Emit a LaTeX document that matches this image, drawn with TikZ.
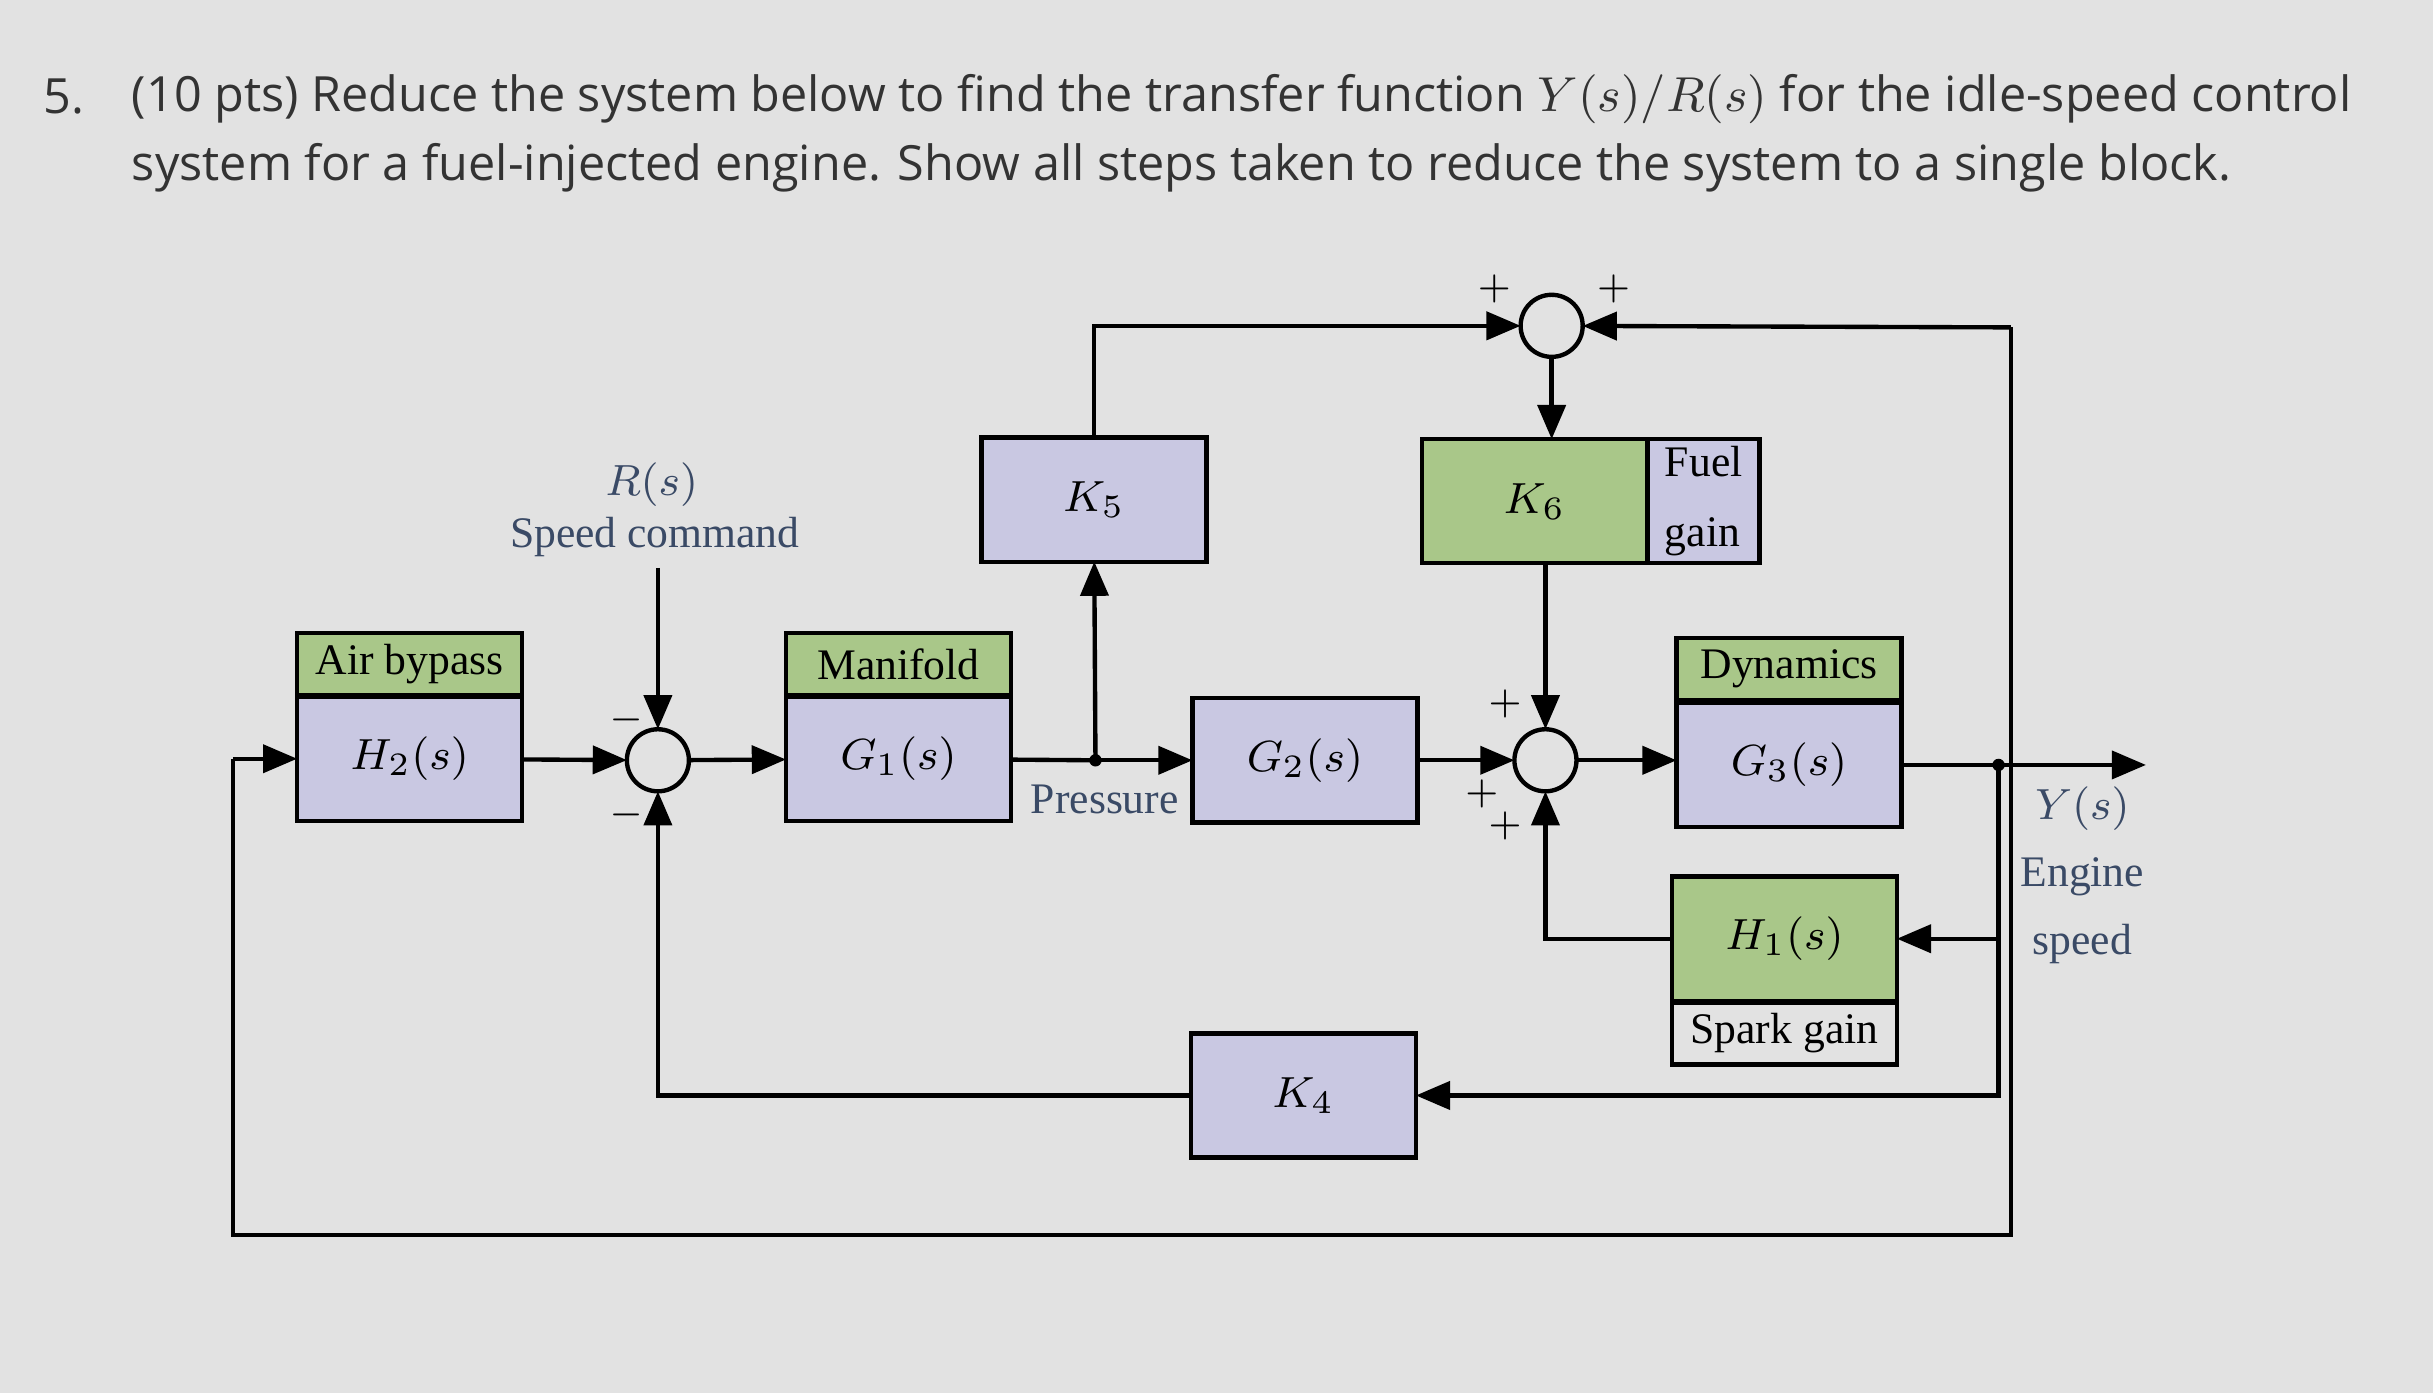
\documentclass[tikz,border=0pt]{standalone}
\usepackage{fontspec}
\setmainfont{Liberation Serif}
\newfontfamily\titlefont{Open Sans}
\usetikzlibrary{arrows.meta}
\definecolor{bgcol}{HTML}{E2E2E2}
\definecolor{tfcol}{HTML}{C9C8E2}
\definecolor{gaincol}{HTML}{A9C789}
\definecolor{labcol}{HTML}{3A4A66}
\begin{document}
\begin{tikzpicture}
[x=0.1mm,y=-0.1mm,
 every node/.style={inner sep=0mm,outer sep=0mm,font=\fontsize{8}{9.5}\selectfont},
 blk/.style={rectangle,draw=black,thick,fill=tfcol,minimum width=14.5mm,minimum height=8mm},
 tag/.style={rectangle,draw=black,thick,fill=gaincol,minimum width=14.5mm,minimum height=4mm},
 sum/.style={circle,draw=black,thick,fill=bgcol,minimum size=4mm},
 sgn/.style={font=\fontsize{7}{8}\selectfont},
 qtxt/.style={anchor=west,font=\titlefont\fontsize{8.9}{11}\selectfont,text=black!80},
 sig/.style={-{Triangle[length=2.2mm,width=1.8mm]},thick},
 wire/.style={thick}]
\fill[bgcol] (0,0) rectangle (1568,898);
\useasboundingbox (0,0) rectangle (1568,898);

% question text
\node[qtxt] (qnum) at (28,62) {5.};
\node[qtxt] (q1) at (85,64)
  {(10 pts) Reduce the system below to find the transfer function $Y(s)/R(s)$ for the idle-speed control};
\node[qtxt] (q2) at (85,108)
  {system for a fuel-injected engine. Show all steps taken to reduce the system to a single block.};

% blocks
\node[tag] (bypass) at (264,428) {Air bypass};
\node[blk] (H2) at (264,489) {$H_2(s)$};
\node[tag] (manif) at (579,428) {Manifold};
\node[blk] (G1) at (579,489) {$G_1(s)$};
\node[blk] (K5) at (705,322) {$K_5$};
\node[blk] (G2) at (841,490) {$G_2(s)$};
\node[blk,fill=gaincol] (K6) at (989,323) {$K_6$};
\node[rectangle,draw=black,thick,fill=tfcol,minimum width=7.2mm,minimum height=8mm,align=left] (fuel) at (1098,323) {Fuel\\[1.2mm]gain};
\node[tag] (dyn) at (1153,431) {Dynamics};
\node[blk] (G3) at (1153,493) {$G_3(s)$};
\node[blk,fill=gaincol] (H1) at (1150,605) {$H_1(s)$};
\node[rectangle,draw=black,thick,fill=bgcol,minimum width=14.5mm,minimum height=4mm] (spark) at (1150,666) {Spark gain};
\node[blk] (K4) at (840,706) {$K_4$};

% summing junctions
\node[sum] (s1) at (424,490) {};
\node[sum] (s2) at (996,490) {};
\node[sum] (s3) at (1000,210) {};

% labels
\node[text=labcol] (Rlab) at (420,312) {$R(s)$};
\node[text=labcol] (Rtxt) at (422,346) {Speed command};
\node[text=labcol] (press) at (712,515) {Pressure};
\node[text=labcol,align=center] (Ylab) at (1342,564) {$Y(s)$\\[1mm]Engine\\[1mm]speed};
\node[sgn] at (404,464) {$-$};
\node[sgn] at (404,525) {$-$};
\node[sgn] at (970,454) {$+$};
\node[sgn] at (955,512) {$+$};
\node[sgn] at (970,532) {$+$};
\node[sgn] at (963,186) {$+$};
\node[sgn] at (1040,186) {$+$};

% junction points
\coordinate (Rin) at (424,366);
\coordinate (pj) at (706,490);
\coordinate (yj) at (1288,493);
\coordinate (yout) at (1383,493);
\coordinate (tr) at (1296,211);
\coordinate (br) at (1296,796);
\coordinate (bl) at (150,796);
\coordinate (ml) at (150,489);

% connectors
\draw[sig] (Rin) -- (s1);
\draw[sig] (H2) -- (s1);
\draw[sig] (s1) -- (G1);
\draw[wire] (G1) -- (pj);
\draw[sig] (pj) -- (G2);
\fill (pj) circle (4);
\draw[sig] (pj) -- (K5);
\draw[sig] (K5.north) |- (s3);
\draw[sig] (tr) -- (s3);
\draw[sig] (s3) -- (s3 |- K6.north);
\draw[sig] (s2 |- K6.south) -- (s2);
\draw[sig] (G2) -- (s2);
\draw[sig] (s2) -- (G3.west |- s2);
\draw[sig] (G3.east |- yj) -- (yout);
\fill (yj) circle (4);
\draw[sig] (yj) |- (H1);
\draw[sig] (H1) -| (s2);
\draw[sig] (yj) |- (K4);
\draw[sig] (K4) -| (s1);
\draw[wire] (tr) -- (br) -- (bl) -- (ml);
\draw[sig] (ml) -- (H2);
\end{tikzpicture}
\end{document}
